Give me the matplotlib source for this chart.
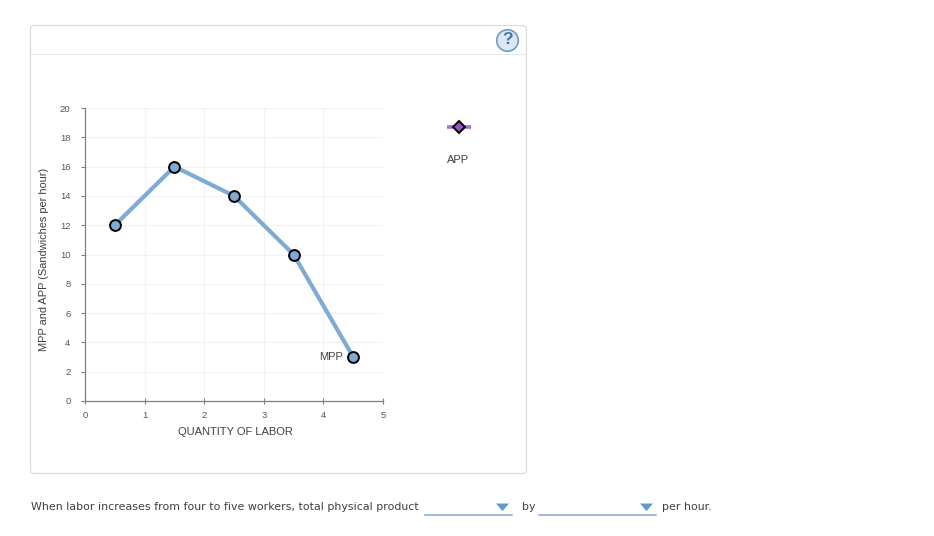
"""MPP / APP labor graph with the question text underneath."""

import matplotlib

matplotlib.use("Agg")
import matplotlib.pyplot as plt
from matplotlib.patches import FancyBboxPatch, Polygon

labor = [0.5, 1.5, 2.5, 3.5, 4.5]
mpp = [12, 16, 14, 10, 3]
x_ticks = [0, 1, 2, 3, 4, 5]
y_ticks = [0, 2, 4, 6, 8, 10, 12, 14, 16, 18, 20]

W, H = 934, 536
BLUE = "#7eaad4"
TICK = "#808080"
TEXT = "#404040"

plt.rcParams["font.family"] = ["Liberation Sans", "DejaVu Sans"]

fig = plt.figure(figsize=(W / 100, H / 100), dpi=100)

# page layer in pixel coordinates, y pointing down
page = fig.add_axes([0, 0, 1, 1])
page.set_xlim(0, W)
page.set_ylim(H, 0)
page.axis("off")

page.add_patch(FancyBboxPatch((30.5, 25.5), 496, 448, boxstyle="round,pad=0,rounding_size=4",
                              fc="white", ec="#d9d9d9", lw=0.8))
page.plot([31, 526], [53.5, 53.5], color="#e8e8e8", lw=0.8)

# help icon
page.plot([507], [39.5], "o", ms=15.5, mfc="#dbe7f3", mec="#6f9cc4", mew=1.2)
page.text(507, 39.8, "?", ha="center", va="center", fontsize=12.5, fontweight="bold", color="#3f74a6")

# legend sample for APP
page.plot([447, 471], [126.5, 126.5], color="#aa6fd2", lw=2.6, solid_capstyle="butt")
page.plot([458.5], [126.5], "D", ms=5.8, mfc="#9a50c8", mec="black", mew=1.4)
page.text(458.5, 160, "APP", ha="center", va="center", fontsize=8, color=TEXT)

# question line
qfont = dict(family="DejaVu Sans", fontsize=7.95, color=TEXT, va="center")
page.text(31, 507.5, "When labor increases from four to five workers, total physical product", ha="left", **qfont)
page.text(522, 507.5, "by", ha="left", **qfont)
page.text(662, 507.5, "per hour.", ha="left", **qfont)
for x0, x1 in [(425, 512), (539, 656)]:
    page.plot([x0, x1], [514.5, 514.5], color="#7eaad4", lw=1.1)
    page.add_patch(Polygon([[x1 - 16, 503.5], [x1 - 3, 503.5], [x1 - 9.5, 511]], fc="#5b9bd0", ec="none"))

# the graph itself
left, right, top, bottom = 85.0, 383.0, 108.0, 401.0
ax = fig.add_axes([left / W, 1 - bottom / H, (right - left) / W, (bottom - top) / H])
ax.patch.set_alpha(0)
ax.set_xlim(0, 5)
ax.set_ylim(0, 20)
ax.set_xticks(x_ticks)
ax.set_yticks(y_ticks)
ax.grid(color="#f2f2f2", lw=0.8)
ax.set_axisbelow(True)
for s in ("top", "right"):
    ax.spines[s].set_visible(False)
for s in ("left", "bottom"):
    ax.spines[s].set_color(TICK)
    ax.spines[s].set_linewidth(0.9)
ax.tick_params(axis="y", direction="out", length=2.8, width=0.8, color=TICK, labelsize=6.8, labelcolor="#555555", pad=7.6)
ax.tick_params(axis="x", direction="inout", length=4.5, width=0.8, color=TICK, labelsize=6.8, labelcolor="#555555", pad=5)

ax.plot(labor, mpp, color=BLUE, lw=3, marker="o", ms=7.8, mfc=BLUE, mec="black", mew=1.4,
        solid_capstyle="butt", clip_on=False, zorder=3)
ax.annotate("MPP", (labor[-1], mpp[-1]), xytext=(-10, 0), textcoords="offset pixels",
            ha="right", va="center", fontsize=8, color=TEXT)

page.text(235, 432, "QUANTITY OF LABOR", ha="center", va="center", fontsize=8, color=TEXT)
page.text(44.5, 259, "MPP and APP (Sandwiches per hour)", ha="center", va="center", rotation=90,
          fontsize=7.9, color=TEXT)

fig.savefig("out.png", dpi=100)
